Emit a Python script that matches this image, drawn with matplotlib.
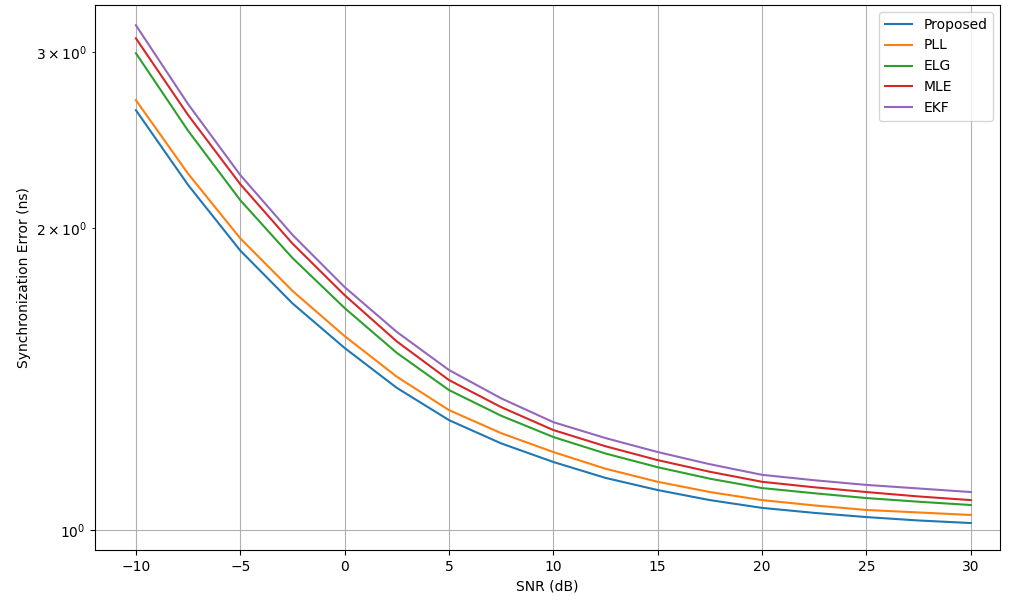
import matplotlib
matplotlib.use("Agg")
import matplotlib.pyplot as plt

snr = [-10, -7.5, -5, -2.5, 0, 2.5, 5, 7.5, 10, 12.5, 15, 17.5, 20, 22.5, 25, 27.5, 30]
proposed = [2.623, 2.209, 1.900, 1.683, 1.519, 1.386, 1.287, 1.220, 1.169, 1.127, 1.096, 1.071, 1.052, 1.040, 1.030, 1.022, 1.016]
pll = [2.684, 2.267, 1.954, 1.732, 1.561, 1.422, 1.317, 1.249, 1.196, 1.151, 1.117, 1.091, 1.071, 1.058, 1.047, 1.041, 1.035]
elg = [2.990, 2.502, 2.133, 1.868, 1.665, 1.502, 1.379, 1.300, 1.238, 1.192, 1.155, 1.125, 1.101, 1.088, 1.076, 1.067, 1.059]
mle = [3.094, 2.594, 2.213, 1.931, 1.715, 1.542, 1.411, 1.326, 1.258, 1.212, 1.174, 1.143, 1.117, 1.103, 1.091, 1.080, 1.071]
ekf = [3.188, 2.660, 2.260, 1.970, 1.747, 1.576, 1.444, 1.353, 1.281, 1.235, 1.196, 1.163, 1.135, 1.121, 1.109, 1.100, 1.091]
labels = ["Proposed", "PLL", "ELG", "MLE", "EKF"]

fig = plt.figure(figsize=(10.15, 6), dpi=100)
ax = fig.add_axes([95/1015, 50/600, 905/1015, 545/600])
for lab, ys in zip(labels, [proposed, pll, elg, mle, ekf]):
    ax.plot(snr, ys, label=lab, lw=1.5)
ax.set_yscale("log")
ax.set_ylim(0.955, 3.34)
ax.set_xlim(-11.96, 31.4)
ax.grid(True, which="major")
ax.set_xlabel("SNR (dB)")
ax.set_ylabel("Synchronization Error (ns)")
ax.legend(loc="upper right")
fig.savefig("out.png", dpi=100)
